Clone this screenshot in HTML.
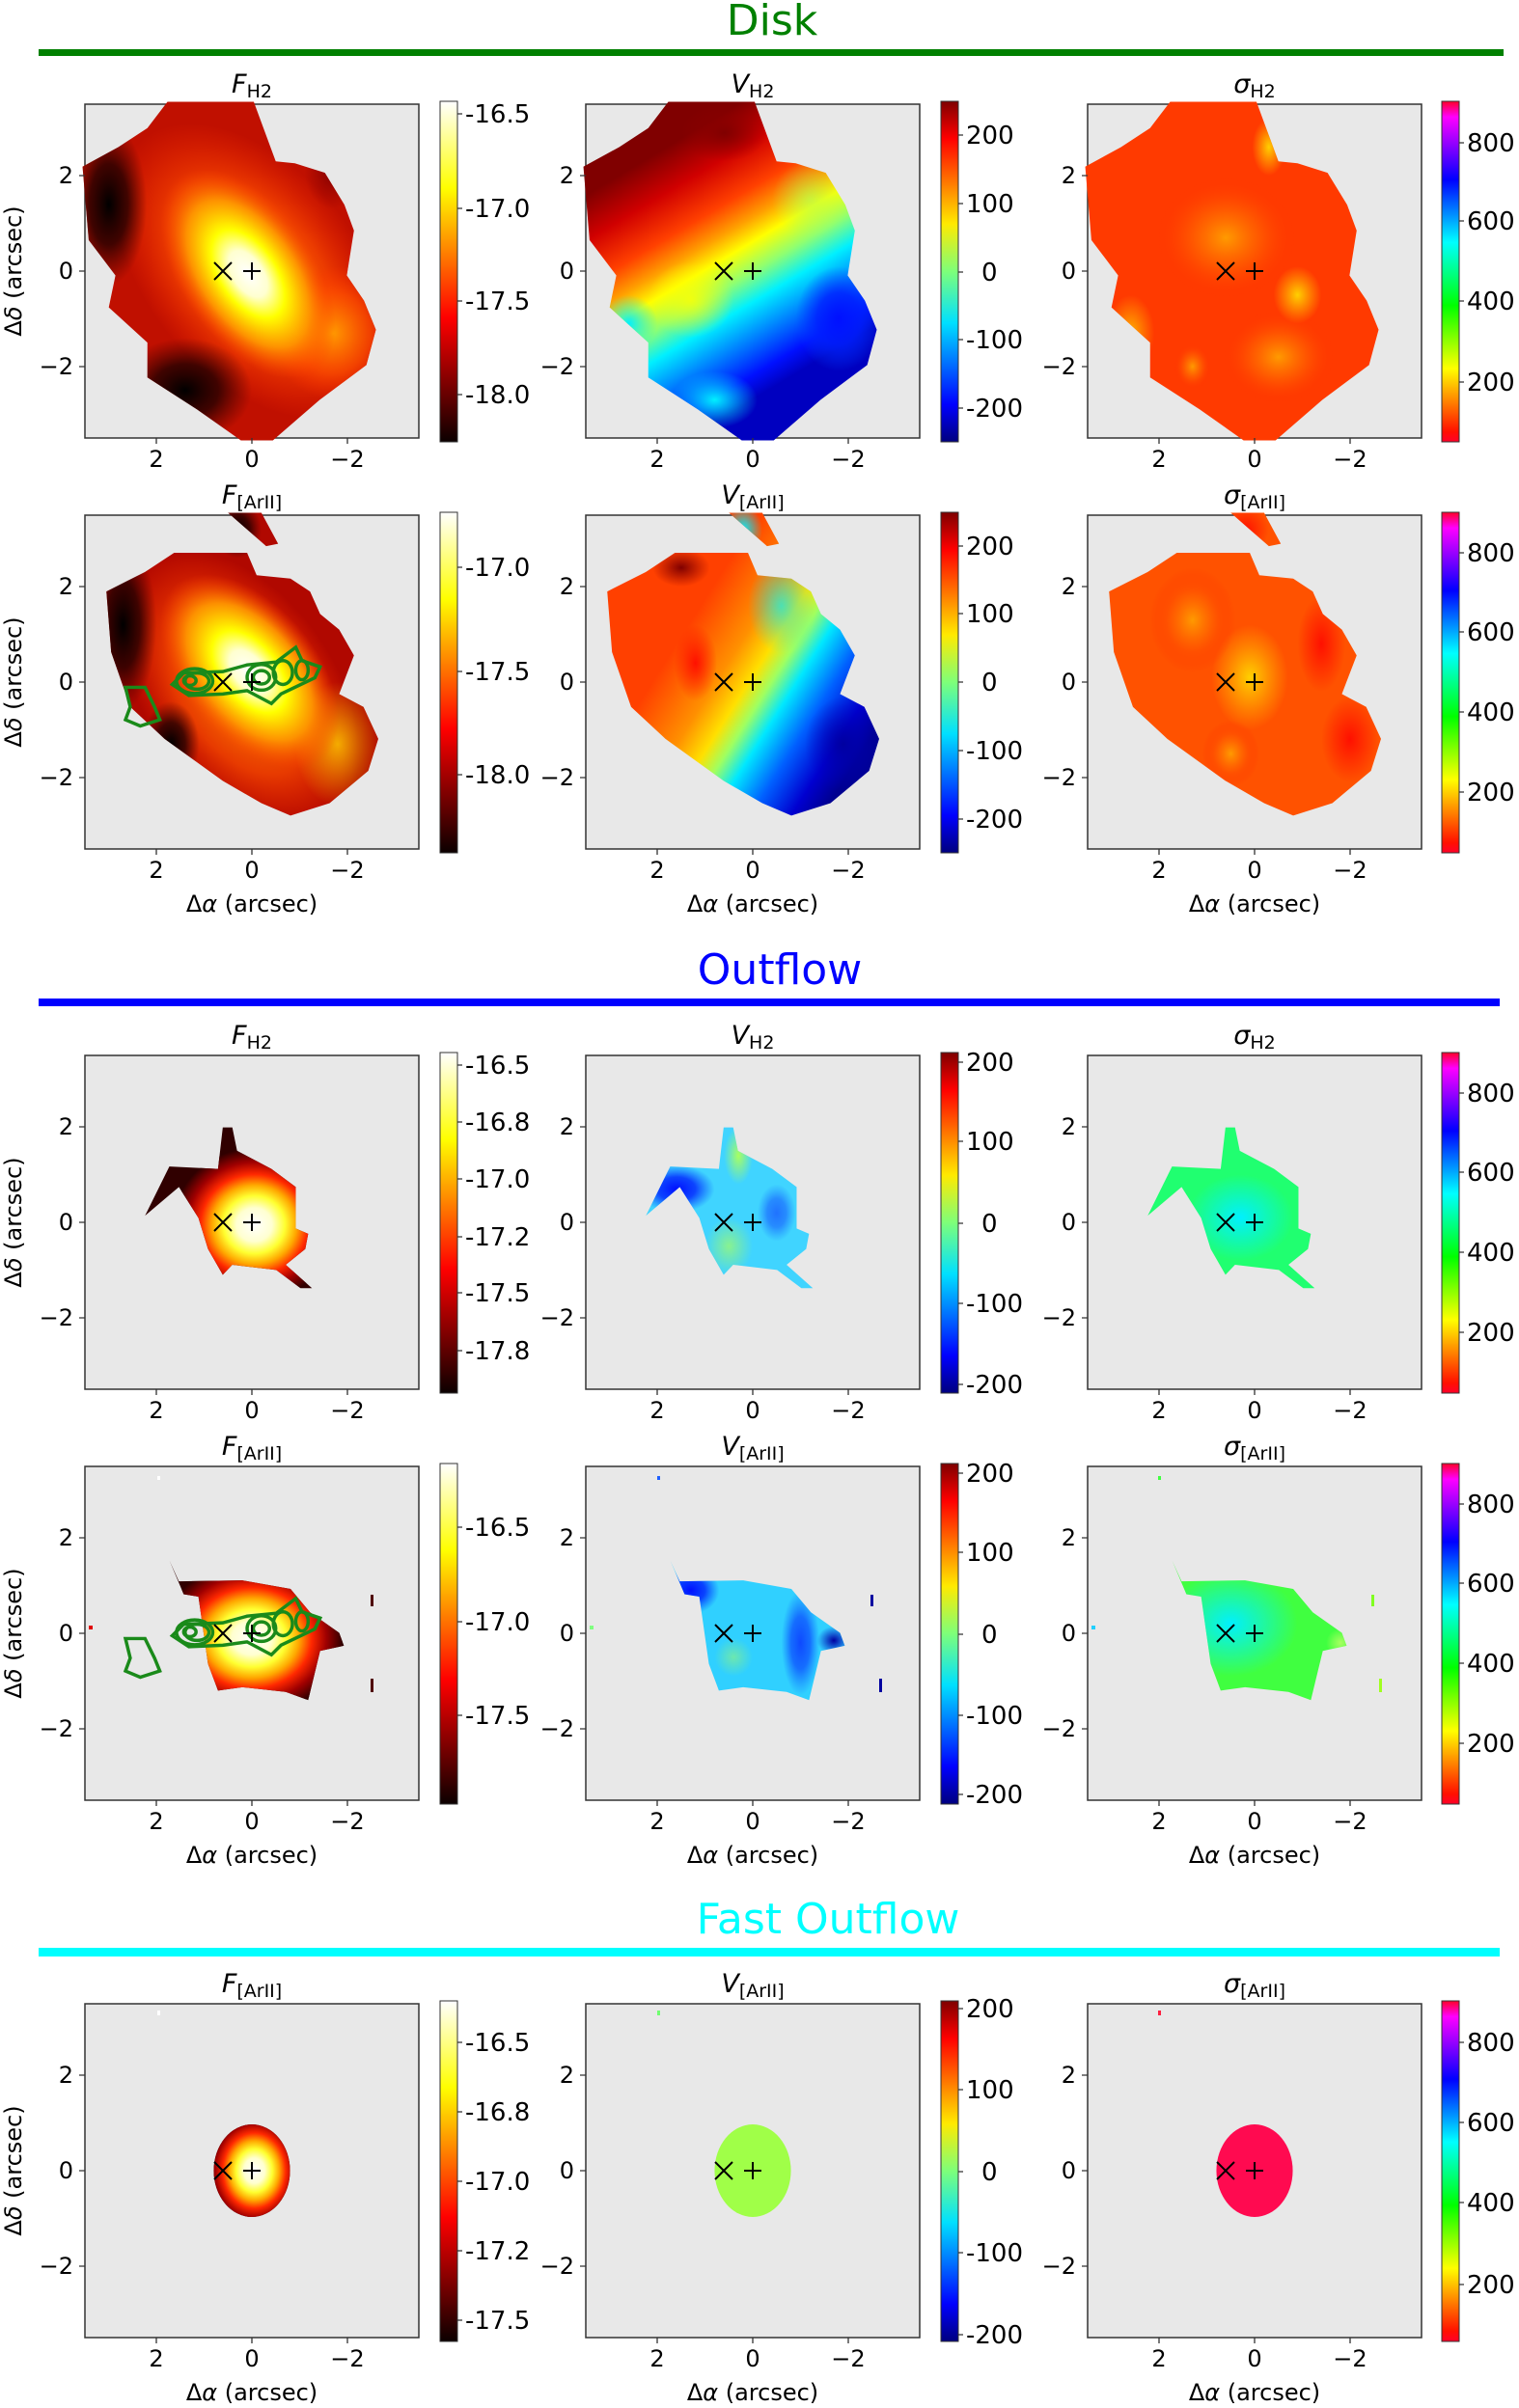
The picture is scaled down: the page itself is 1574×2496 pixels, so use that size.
<!DOCTYPE html>
<html><head><meta charset="utf-8"><style>html,body{margin:0;padding:0;background:#fff}svg{display:block}</style></head>
<body>
<svg xmlns="http://www.w3.org/2000/svg" xmlns:xlink="http://www.w3.org/1999/xlink" width="1574" height="2496" viewBox="0 0 1574 2496" font-family="DejaVu Sans, Liberation Sans, sans-serif">
<defs>
<linearGradient id="cbHot" x1="0" y1="1" x2="0" y2="0"><stop offset="0" stop-color="#0b0000"/><stop offset="0.365" stop-color="#ff0000"/><stop offset="0.746" stop-color="#ffff00"/><stop offset="1" stop-color="#ffffff"/></linearGradient>
<linearGradient id="cbJet" x1="0" y1="1" x2="0" y2="0"><stop offset="0" stop-color="#00007f"/><stop offset="0.11" stop-color="#0000ff"/><stop offset="0.35" stop-color="#00e0ff"/><stop offset="0.5" stop-color="#7dff7a"/><stop offset="0.64" stop-color="#ffea00"/><stop offset="0.89" stop-color="#ff0000"/><stop offset="1" stop-color="#7f0000"/></linearGradient>
<linearGradient id="cbRain" x1="0" y1="1" x2="0" y2="0"><stop offset="0" stop-color="#ff0029"/><stop offset="0.03" stop-color="#ff1000"/><stop offset="0.215" stop-color="#ffff00"/><stop offset="0.4" stop-color="#00ff00"/><stop offset="0.586" stop-color="#00ffff"/><stop offset="0.77" stop-color="#0000ff"/><stop offset="0.954" stop-color="#ff00ff"/><stop offset="1" stop-color="#ff0029"/></linearGradient>

<radialGradient id="fw"><stop offset="0" stop-color="#ffffff"/><stop offset="0.22" stop-color="#ffffd0"/><stop offset="0.42" stop-color="#ffff00"/><stop offset="0.7" stop-color="#ff9a00" stop-opacity="0.9"/><stop offset="1" stop-color="#ff4000" stop-opacity="0"/></radialGradient>
<radialGradient id="hotRad"><stop offset="0" stop-color="#ffffff"/><stop offset="0.22" stop-color="#ffffd0"/><stop offset="0.38" stop-color="#ffff30"/><stop offset="0.52" stop-color="#ffa800"/><stop offset="0.66" stop-color="#ff2800"/><stop offset="0.82" stop-color="#a00000"/><stop offset="1" stop-color="#300000"/></radialGradient>
<radialGradient id="fo"><stop offset="0" stop-color="#ff9a00"/><stop offset="0.6" stop-color="#ff5000" stop-opacity="0.7"/><stop offset="1" stop-color="#ff3000" stop-opacity="0"/></radialGradient>
<radialGradient id="fk"><stop offset="0" stop-color="#000000"/><stop offset="0.5" stop-color="#200000" stop-opacity="0.8"/><stop offset="1" stop-color="#400000" stop-opacity="0"/></radialGradient>
<radialGradient id="fr"><stop offset="0" stop-color="#ff1000"/><stop offset="1" stop-color="#ff1000" stop-opacity="0"/></radialGradient>
<radialGradient id="fy"><stop offset="0" stop-color="#ffd000"/><stop offset="1" stop-color="#ffc000" stop-opacity="0"/></radialGradient>
<radialGradient id="fyy"><stop offset="0" stop-color="#ffff00"/><stop offset="1" stop-color="#ffff00" stop-opacity="0"/></radialGradient>
<radialGradient id="fb"><stop offset="0" stop-color="#0010ff"/><stop offset="0.5" stop-color="#0020ff" stop-opacity="0.8"/><stop offset="1" stop-color="#0040ff" stop-opacity="0"/></radialGradient>
<radialGradient id="fdb"><stop offset="0" stop-color="#0000a0"/><stop offset="1" stop-color="#0000c0" stop-opacity="0"/></radialGradient>
<radialGradient id="fc"><stop offset="0" stop-color="#00f0ff"/><stop offset="1" stop-color="#00f0ff" stop-opacity="0"/></radialGradient>
<radialGradient id="fg"><stop offset="0" stop-color="#40ff40"/><stop offset="1" stop-color="#40ff40" stop-opacity="0"/></radialGradient>
<radialGradient id="fgy"><stop offset="0" stop-color="#a8ff60"/><stop offset="1" stop-color="#a8ff60" stop-opacity="0"/></radialGradient>
<radialGradient id="fdr"><stop offset="0" stop-color="#800000"/><stop offset="1" stop-color="#900000" stop-opacity="0"/></radialGradient>

<linearGradient id="gV1" gradientUnits="userSpaceOnUse" x1="0.8" y1="3.2" x2="-2.0" y2="-1.5"><stop offset="0" stop-color="#800000"/><stop offset="0.15" stop-color="#d00000"/><stop offset="0.3" stop-color="#ff4000"/><stop offset="0.4" stop-color="#ffa000"/><stop offset="0.48" stop-color="#ffff00"/><stop offset="0.58" stop-color="#90ff70"/><stop offset="0.68" stop-color="#00f0ff"/><stop offset="0.8" stop-color="#0080ff"/><stop offset="0.92" stop-color="#0010ff"/><stop offset="1" stop-color="#0000c0"/></linearGradient>
<linearGradient id="gV2" gradientUnits="userSpaceOnUse" x1="1.6" y1="0.8" x2="-2.2" y2="-1.6"><stop offset="0" stop-color="#ff4000"/><stop offset="0.25" stop-color="#ff9000"/><stop offset="0.38" stop-color="#ffe000"/><stop offset="0.47" stop-color="#a0ff60"/><stop offset="0.57" stop-color="#00e8ff"/><stop offset="0.72" stop-color="#0060ff"/><stop offset="0.88" stop-color="#0000d0"/><stop offset="1" stop-color="#000090"/></linearGradient>

<polygon id="pD1" points="1.77,3.55 -0.04,3.55 -0.5,2.3 -0.9,2.26 -1.53,2.06 -1.94,1.39 -2.14,0.85 -1.99,-0.09 -2.35,-0.62 -2.6,-1.23 -2.4,-1.97 -1.42,-2.7 -0.44,-3.55 0.23,-3.55 1.15,-2.9 2.19,-2.23 2.19,-1.5 3.0,-0.76 2.86,-0.09 3.42,0.65 3.55,2.19 2.8,2.6 2.19,3.0"/>
<polygon id="pD2" points="1.63,2.71 0.1,2.71 -0.1,2.24 -0.81,2.17 -1.22,1.9 -1.43,1.43 -1.83,1.1 -2.14,0.56 -1.83,-0.25 -2.34,-0.52 -2.65,-1.19 -2.44,-1.86 -1.63,-2.54 -0.81,-2.8 -0.2,-2.54 0.61,-2.07 1.83,-1.19 2.55,-0.52 2.95,0.63 3.05,1.9 2.24,2.31"/>
<polygon id="pD2t" points="0.5,3.55 -0.2,3.55 -0.55,2.9 -0.3,2.85"/>
<polygon id="pO1" points="0.61,1.99 0.41,1.99 0.31,1.5 -0.41,1.12 -0.92,0.74 -0.92,-0.13 -1.18,-0.24 -1.12,-0.56 -0.71,-0.89 -1.26,-1.38 -1.02,-1.38 -0.51,-1.0 0.41,-0.89 0.61,-1.1 0.92,-0.56 1.12,0.09 1.53,0.74 2.24,0.14 1.73,1.17 0.71,1.12"/>
<polygon id="pO2" points="1.73,1.53 1.53,1.09 0.2,1.11 -0.81,0.93 -1.22,0.44 -1.83,0.01 -1.93,-0.26 -1.43,-0.37 -1.18,-1.4 -0.71,-1.23 0.2,-1.13 0.71,-1.2 0.92,-0.64 1.12,0.77 1.43,0.82"/>
<clipPath id="cD1"><use xlink:href="#pD1"/></clipPath>
<clipPath id="cD2"><use xlink:href="#pD2"/><use xlink:href="#pD2t"/></clipPath>
<clipPath id="cO1"><use xlink:href="#pO1"/></clipPath>
<clipPath id="cO2"><use xlink:href="#pO2"/></clipPath>
<clipPath id="cF"><ellipse cx="0" cy="0" rx="0.8" ry="0.97"/></clipPath>

<g id="cont" fill="none" stroke="#1a8a1a" stroke-width="0.07">
<path d="M1.67,-0.05 L1.43,0.19 L0.61,0.22 L0.1,0.36 L-0.51,0.42 L-0.92,0.73 L-1.05,0.45 L-1.43,0.32 L-1.32,0.09 L-0.61,-0.25 L-0.41,-0.45 L0.1,-0.18 L0.61,-0.25 L1.32,-0.28 Z"/>
<ellipse cx="1.2" cy="0.02" rx="0.38" ry="0.26"/><ellipse cx="1.15" cy="0.02" rx="0.25" ry="0.17"/><ellipse cx="1.3" cy="0.03" rx="0.13" ry="0.1"/>
<ellipse cx="-0.2" cy="0.1" rx="0.3" ry="0.27"/><ellipse cx="-0.2" cy="0.1" rx="0.17" ry="0.14"/>
<ellipse cx="-0.65" cy="0.2" rx="0.2" ry="0.25"/><ellipse cx="-1.05" cy="0.25" rx="0.13" ry="0.2"/>
<path d="M2.65,-0.11 L2.24,-0.11 L2.04,-0.52 L1.93,-0.79 L2.34,-0.92 L2.65,-0.79 L2.55,-0.52 Z"/>
</g>
</defs>
<rect width="1574" height="2496" fill="#fff"/>

<text x="800" y="36" font-size="44" fill="#008000" text-anchor="middle">Disk</text>
<rect x="40" y="51" width="1518" height="7" fill="#008000"/>
<text x="808" y="1020" font-size="44" fill="#0000ff" text-anchor="middle">Outflow</text>
<rect x="40" y="1035" width="1514" height="8" fill="#0000ff"/>
<text x="858" y="2004" font-size="44" fill="#00ffff" text-anchor="middle">Fast Outflow</text>
<rect x="40" y="2019" width="1514" height="9" fill="#00ffff"/>

<g fill="#e8e8e8" stroke="#333" stroke-width="1.5">
<rect x="88" y="108" width="346" height="346"/><rect x="607" y="108" width="346" height="346"/><rect x="1127" y="108" width="346" height="346"/>
<rect x="88" y="534" width="346" height="346"/><rect x="607" y="534" width="346" height="346"/><rect x="1127" y="534" width="346" height="346"/>
<rect x="88" y="1094" width="346" height="346"/><rect x="607" y="1094" width="346" height="346"/><rect x="1127" y="1094" width="346" height="346"/>
<rect x="88" y="1520" width="346" height="346"/><rect x="607" y="1520" width="346" height="346"/><rect x="1127" y="1520" width="346" height="346"/>
<rect x="88" y="2077" width="346" height="346"/><rect x="607" y="2077" width="346" height="346"/><rect x="1127" y="2077" width="346" height="346"/>
</g>

<!-- ROW 1 -->
<g transform="translate(261,281) scale(-49.43)">
 <g clip-path="url(#cD1)">
  <rect x="-4" y="-4" width="8" height="8" fill="#c01000"/>
  <ellipse cx="0" cy="0" rx="3.6" ry="2.2" transform="rotate(50)" fill="url(#fo)"/>
  <ellipse cx="-1.7" cy="-1.3" rx="1.3" ry="1.4" fill="url(#fo)"/>
  <ellipse cx="1.4" cy="-2.5" rx="1.4" ry="1.1" fill="url(#fk)"/>
  <ellipse cx="3.0" cy="1.4" rx="0.8" ry="1.7" fill="url(#fk)"/>
  <ellipse cx="-1.7" cy="2.1" rx="0.6" ry="0.8" fill="url(#fdr)"/>
  <ellipse cx="0" cy="-0.1" rx="2.5" ry="1.4" transform="rotate(55)" fill="url(#fw)"/>
 </g>
</g>
<g transform="translate(780,281) scale(-49.43)">
 <g clip-path="url(#cD1)">
  <rect x="-4" y="-4" width="8" height="8" fill="url(#gV1)"/>
  <ellipse cx="0.6" cy="2.9" rx="0.9" ry="0.6" fill="url(#fdr)"/>
  <ellipse cx="1.3" cy="-0.6" rx="0.9" ry="0.8" fill="url(#fyy)" opacity="0.8"/>
  <ellipse cx="2.6" cy="-1.1" rx="0.6" ry="0.6" fill="url(#fc)"/>
  <ellipse cx="0.8" cy="-2.7" rx="0.9" ry="0.6" fill="url(#fc)"/>
  <ellipse cx="-1.8" cy="-1.0" rx="0.9" ry="1.1" fill="url(#fb)"/>
  <ellipse cx="-1.2" cy="1.5" rx="0.8" ry="0.8" fill="url(#fgy)" opacity="0.6"/>
 </g>
</g>
<g transform="translate(1300,281) scale(-49.43)">
 <g clip-path="url(#cD1)">
  <rect x="-4" y="-4" width="8" height="8" fill="#ff3a00"/>
  <ellipse cx="0.6" cy="0.7" rx="1.5" ry="1.3" fill="url(#fo)"/>
  <ellipse cx="-0.5" cy="-1.8" rx="1.2" ry="1.0" fill="url(#fo)"/>
  <ellipse cx="-0.9" cy="-0.5" rx="0.5" ry="0.6" fill="url(#fy)"/>
  <ellipse cx="-0.3" cy="2.6" rx="0.35" ry="0.6" fill="url(#fy)"/>
  <ellipse cx="2.6" cy="-1.3" rx="0.5" ry="0.8" fill="url(#fy)" opacity="0.8"/>
  <ellipse cx="1.3" cy="-2.0" rx="0.4" ry="0.5" fill="url(#fo)"/>
 </g>
</g>

<!-- ROW 2 -->
<g transform="translate(261,707) scale(-49.43)">
 <g clip-path="url(#cD2)">
  <rect x="-4" y="-4" width="8" height="8" fill="#b00800"/>
  <ellipse cx="0" cy="-0.3" rx="3.3" ry="2.0" transform="rotate(55)" fill="url(#fo)"/>
  <ellipse cx="-1.8" cy="-1.3" rx="0.9" ry="1.3" fill="url(#fy)" opacity="0.8"/>
  <ellipse cx="2.7" cy="1.2" rx="0.7" ry="1.8" fill="url(#fk)"/>
  <ellipse cx="1.7" cy="-1.3" rx="0.6" ry="0.9" fill="url(#fk)"/>
  <ellipse cx="0.3" cy="3.2" rx="0.5" ry="0.6" fill="url(#fk)"/>
  <ellipse cx="0.2" cy="0.1" rx="2.4" ry="1.4" transform="rotate(50)" fill="url(#fw)"/>
 </g>
 <use xlink:href="#cont"/>
</g>
<g transform="translate(780,707) scale(-49.43)">
 <g clip-path="url(#cD2)">
  <rect x="-4" y="-4" width="8" height="8" fill="url(#gV2)"/>
  <ellipse cx="1.2" cy="0.4" rx="0.45" ry="0.8" fill="url(#fr)"/>
  <ellipse cx="1.5" cy="2.4" rx="0.6" ry="0.4" fill="url(#fdr)"/>
  <ellipse cx="-0.6" cy="1.6" rx="0.7" ry="1.0" fill="url(#fc)" opacity="0.7"/>
  <ellipse cx="0.2" cy="3.2" rx="0.4" ry="0.5" fill="url(#fc)"/>
  <ellipse cx="-1.9" cy="-1.3" rx="0.8" ry="1.0" fill="url(#fdb)"/>
 </g>
</g>
<g transform="translate(1300,707) scale(-49.43)">
 <g clip-path="url(#cD2)">
  <rect x="-4" y="-4" width="8" height="8" fill="#ff5200"/>
  <ellipse cx="0.1" cy="0.1" rx="0.8" ry="1.1" fill="url(#fy)"/>
  <ellipse cx="1.3" cy="1.3" rx="0.9" ry="1.1" fill="url(#fo)"/>
  <ellipse cx="-1.4" cy="0.8" rx="0.5" ry="1.0" fill="url(#fr)"/>
  <ellipse cx="-2.0" cy="-1.2" rx="0.6" ry="0.9" fill="url(#fr)"/>
  <ellipse cx="0.5" cy="-1.5" rx="0.6" ry="0.7" fill="url(#fo)"/>
  <ellipse cx="0.2" cy="3.2" rx="0.5" ry="0.5" fill="url(#fr)"/>
 </g>
</g>

<!-- ROW 3 -->
<g transform="translate(261,1267) scale(-49.43)">
 <g clip-path="url(#cO1)">
  <rect x="-4" y="-4" width="8" height="8" fill="#300000"/>
  <ellipse cx="-0.05" cy="-0.05" rx="1.7" ry="1.6" fill="url(#hotRad)"/>
 </g>
</g>
<g transform="translate(780,1267) scale(-49.43)">
 <g clip-path="url(#cO1)">
  <rect x="-4" y="-4" width="8" height="8" fill="#40d4ff"/>
  <ellipse cx="1.6" cy="0.7" rx="0.8" ry="0.5" fill="url(#fb)"/>
  <ellipse cx="0.5" cy="-0.5" rx="0.5" ry="0.6" fill="url(#fgy)" opacity="0.7"/>
  <ellipse cx="0.3" cy="1.4" rx="0.3" ry="0.6" fill="url(#fgy)"/>
  <ellipse cx="-0.5" cy="0.2" rx="0.4" ry="0.6" fill="url(#fb)" opacity="0.5"/>
 </g>
</g>
<g transform="translate(1300,1267) scale(-49.43)">
 <g clip-path="url(#cO1)">
  <rect x="-4" y="-4" width="8" height="8" fill="#20ff70"/>
  <ellipse cx="0.3" cy="0.1" rx="1.1" ry="0.9" fill="url(#fc)"/>
 </g>
</g>

<!-- ROW 4 -->
<g transform="translate(261,1693) scale(-49.43)">
 <g clip-path="url(#cO2)">
  <rect x="-4" y="-4" width="8" height="8" fill="#300000"/>
  <ellipse cx="0" cy="-0.1" rx="1.9" ry="1.6" fill="url(#hotRad)"/>
 </g>
 <use xlink:href="#cont"/>
</g>
<g transform="translate(780,1693) scale(-49.43)">
 <g clip-path="url(#cO2)">
  <rect x="-4" y="-4" width="8" height="8" fill="#30d0ff"/>
  <ellipse cx="1.3" cy="0.9" rx="0.6" ry="0.5" fill="url(#fb)"/>
  <ellipse cx="-1.0" cy="-0.2" rx="0.4" ry="1.1" fill="url(#fb)" opacity="0.7"/>
  <ellipse cx="-1.7" cy="-0.15" rx="0.35" ry="0.3" fill="url(#fdb)"/>
  <ellipse cx="0.4" cy="-0.5" rx="0.4" ry="0.4" fill="url(#fgy)" opacity="0.5"/>
 </g>
</g>
<g transform="translate(1300,1693) scale(-49.43)">
 <g clip-path="url(#cO2)">
  <rect x="-4" y="-4" width="8" height="8" fill="#40ff40"/>
  <ellipse cx="0.5" cy="0.2" rx="1.4" ry="1.1" fill="url(#fc)"/>
  <ellipse cx="-1.8" cy="-0.2" rx="0.3" ry="0.3" fill="url(#fgy)"/>
 </g>
</g>

<!-- ROW 5 -->
<g transform="translate(261,2250) scale(-49.43)">
 <g clip-path="url(#cF)">
  <rect x="-4" y="-4" width="8" height="8" fill="#300000"/>
  <ellipse cx="-0.05" cy="0" rx="1.0" ry="1.2" fill="url(#hotRad)"/>
 </g>
</g>
<g transform="translate(780,2250) scale(-49.43)">
 <ellipse cx="0" cy="0" rx="0.8" ry="0.97" fill="#a0ff48"/>
</g>
<g transform="translate(1300,2250) scale(-49.43)">
 <ellipse cx="0" cy="0" rx="0.8" ry="0.97" fill="#ff0a50"/>
</g>
<g>
<rect x="163" y="2084" width="3" height="5" fill="#fff"/><rect x="681" y="2084" width="3" height="5" fill="#70ff70"/><rect x="1200" y="2084" width="3" height="5" fill="#ff2040"/>
<rect x="163" y="1530" width="3" height="4" fill="#fff"/><rect x="681" y="1530" width="3" height="4" fill="#2060ff"/><rect x="1200" y="1530" width="3" height="4" fill="#40ff40"/>
<rect x="92" y="1685" width="4" height="4" fill="#e00000"/><rect x="1131" y="1685" width="4" height="4" fill="#20d0ff"/><rect x="611" y="1685" width="4" height="4" fill="#80ff80"/>
<rect x="384" y="1653" width="3" height="12" fill="#500000"/><rect x="384" y="1740" width="3" height="14" fill="#500000"/>
<rect x="902" y="1653" width="3" height="12" fill="#0000a0"/><rect x="911" y="1740" width="3" height="14" fill="#0000a0"/>
<rect x="1421" y="1653" width="3" height="12" fill="#80ff20"/><rect x="1429" y="1740" width="3" height="14" fill="#a0ff20"/>
</g>

<g stroke="#000" stroke-width="2" fill="none">
<path id="mk" d="M222,272 l18,18 m0,-18 l-18,18 M261,272 v18 m-9,-9 h18"/>
<use xlink:href="#mk" x="519"/><use xlink:href="#mk" x="1039"/>
<use xlink:href="#mk" y="426"/><use xlink:href="#mk" x="519" y="426"/><use xlink:href="#mk" x="1039" y="426"/>
<use xlink:href="#mk" y="986"/><use xlink:href="#mk" x="519" y="986"/><use xlink:href="#mk" x="1039" y="986"/>
<use xlink:href="#mk" y="1412"/><use xlink:href="#mk" x="519" y="1412"/><use xlink:href="#mk" x="1039" y="1412"/>
<use xlink:href="#mk" y="1969"/><use xlink:href="#mk" x="519" y="1969"/><use xlink:href="#mk" x="1039" y="1969"/>
</g>

<defs>
<g id="ax">
 <g stroke="#333" stroke-width="1.3">
  <path d="M162,346 v6 M261,346 v6 M360,346 v6 M88,74 h-6 M88,173 h-6 M88,272 h-6"/>
 </g>
 <g font-size="24" fill="#000">
  <text x="162" y="376" text-anchor="middle">2</text>
  <text x="261" y="376" text-anchor="middle">0</text>
  <text x="360" y="376" text-anchor="middle">−2</text>
  <text x="76" y="82" text-anchor="end">2</text>
  <text x="76" y="181" text-anchor="end">0</text>
  <text x="76" y="280" text-anchor="end">−2</text>
 </g>
</g>
</defs>
<use xlink:href="#ax" x="0" y="108"/><use xlink:href="#ax" x="519" y="108"/><use xlink:href="#ax" x="1039" y="108"/>
<use xlink:href="#ax" x="0" y="534"/><use xlink:href="#ax" x="519" y="534"/><use xlink:href="#ax" x="1039" y="534"/>
<use xlink:href="#ax" x="0" y="1094"/><use xlink:href="#ax" x="519" y="1094"/><use xlink:href="#ax" x="1039" y="1094"/>
<use xlink:href="#ax" x="0" y="1520"/><use xlink:href="#ax" x="519" y="1520"/><use xlink:href="#ax" x="1039" y="1520"/>
<use xlink:href="#ax" x="0" y="2077"/><use xlink:href="#ax" x="519" y="2077"/><use xlink:href="#ax" x="1039" y="2077"/>

<g font-size="24" fill="#000" text-anchor="middle">
<text x="261" y="945">Δ<tspan font-style="italic">α</tspan> (arcsec)</text>
<text x="780" y="945">Δ<tspan font-style="italic">α</tspan> (arcsec)</text>
<text x="1300" y="945">Δ<tspan font-style="italic">α</tspan> (arcsec)</text>
<text x="261" y="1931">Δ<tspan font-style="italic">α</tspan> (arcsec)</text>
<text x="780" y="1931">Δ<tspan font-style="italic">α</tspan> (arcsec)</text>
<text x="1300" y="1931">Δ<tspan font-style="italic">α</tspan> (arcsec)</text>
<text x="261" y="2488">Δ<tspan font-style="italic">α</tspan> (arcsec)</text>
<text x="780" y="2488">Δ<tspan font-style="italic">α</tspan> (arcsec)</text>
<text x="1300" y="2488">Δ<tspan font-style="italic">α</tspan> (arcsec)</text>
<text transform="translate(22,281) rotate(-90)">Δ<tspan font-style="italic">δ</tspan> (arcsec)</text>
<text transform="translate(22,707) rotate(-90)">Δ<tspan font-style="italic">δ</tspan> (arcsec)</text>
<text transform="translate(22,1267) rotate(-90)">Δ<tspan font-style="italic">δ</tspan> (arcsec)</text>
<text transform="translate(22,1693) rotate(-90)">Δ<tspan font-style="italic">δ</tspan> (arcsec)</text>
<text transform="translate(22,2250) rotate(-90)">Δ<tspan font-style="italic">δ</tspan> (arcsec)</text>
</g>

<g font-size="27" fill="#000" text-anchor="middle">
<text x="261" y="96"><tspan font-style="italic">F</tspan><tspan font-size="19" dy="5">H2</tspan></text>
<text x="780" y="96"><tspan font-style="italic">V</tspan><tspan font-size="19" dy="5">H2</tspan></text>
<text x="1300" y="96"><tspan font-style="italic">σ</tspan><tspan font-size="19" dy="5">H2</tspan></text>
<text x="261" y="522"><tspan font-style="italic">F</tspan><tspan font-size="19" dy="5">[ArII]</tspan></text>
<text x="780" y="522"><tspan font-style="italic">V</tspan><tspan font-size="19" dy="5">[ArII]</tspan></text>
<text x="1300" y="522"><tspan font-style="italic">σ</tspan><tspan font-size="19" dy="5">[ArII]</tspan></text>
<text x="261" y="1082"><tspan font-style="italic">F</tspan><tspan font-size="19" dy="5">H2</tspan></text>
<text x="780" y="1082"><tspan font-style="italic">V</tspan><tspan font-size="19" dy="5">H2</tspan></text>
<text x="1300" y="1082"><tspan font-style="italic">σ</tspan><tspan font-size="19" dy="5">H2</tspan></text>
<text x="261" y="1508"><tspan font-style="italic">F</tspan><tspan font-size="19" dy="5">[ArII]</tspan></text>
<text x="780" y="1508"><tspan font-style="italic">V</tspan><tspan font-size="19" dy="5">[ArII]</tspan></text>
<text x="1300" y="1508"><tspan font-style="italic">σ</tspan><tspan font-size="19" dy="5">[ArII]</tspan></text>
<text x="261" y="2065"><tspan font-style="italic">F</tspan><tspan font-size="19" dy="5">[ArII]</tspan></text>
<text x="780" y="2065"><tspan font-style="italic">V</tspan><tspan font-size="19" dy="5">[ArII]</tspan></text>
<text x="1300" y="2065"><tspan font-style="italic">σ</tspan><tspan font-size="19" dy="5">[ArII]</tspan></text>
</g>

<g stroke="#333" stroke-width="1">
<rect x="456" y="105" width="18" height="353" fill="url(#cbHot)"/><rect x="975" y="105" width="18" height="353" fill="url(#cbJet)"/><rect x="1494" y="105" width="18" height="353" fill="url(#cbRain)"/>
<rect x="456" y="531" width="18" height="353" fill="url(#cbHot)"/><rect x="975" y="531" width="18" height="353" fill="url(#cbJet)"/><rect x="1494" y="531" width="18" height="353" fill="url(#cbRain)"/>
<rect x="456" y="1091" width="18" height="353" fill="url(#cbHot)"/><rect x="975" y="1091" width="18" height="353" fill="url(#cbJet)"/><rect x="1494" y="1091" width="18" height="353" fill="url(#cbRain)"/>
<rect x="456" y="1517" width="18" height="353" fill="url(#cbHot)"/><rect x="975" y="1517" width="18" height="353" fill="url(#cbJet)"/><rect x="1494" y="1517" width="18" height="353" fill="url(#cbRain)"/>
<rect x="456" y="2074" width="18" height="353" fill="url(#cbHot)"/><rect x="975" y="2074" width="18" height="353" fill="url(#cbJet)"/><rect x="1494" y="2074" width="18" height="353" fill="url(#cbRain)"/>
</g>
<g font-size="26" fill="#000">
<text x="482" y="127">-16.5</text><text x="482" y="225">-17.0</text><text x="482" y="321">-17.5</text><text x="482" y="418">-18.0</text>
<text x="1001" y="149">200</text><text x="1001" y="220">100</text><text x="1017" y="291">0</text><text x="1001" y="361">-100</text><text x="1001" y="432">-200</text>
<text x="1520" y="157">800</text><text x="1520" y="238">600</text><text x="1520" y="321">400</text><text x="1520" y="405">200</text>
<text x="482" y="597">-17.0</text><text x="482" y="705">-17.5</text><text x="482" y="812">-18.0</text>
<text x="1001" y="575">200</text><text x="1001" y="645">100</text><text x="1017" y="716">0</text><text x="1001" y="787">-100</text><text x="1001" y="858">-200</text>
<text x="1520" y="582">800</text><text x="1520" y="664">600</text><text x="1520" y="747">400</text><text x="1520" y="830">200</text>
<text x="482" y="1113">-16.5</text><text x="482" y="1172">-16.8</text><text x="482" y="1231">-17.0</text><text x="482" y="1291">-17.2</text><text x="482" y="1349">-17.5</text><text x="482" y="1409">-17.8</text>
<text x="1001" y="1110">200</text><text x="1001" y="1192">100</text><text x="1017" y="1277">0</text><text x="1001" y="1360">-100</text><text x="1001" y="1444">-200</text>
<text x="1520" y="1142">800</text><text x="1520" y="1224">600</text><text x="1520" y="1307">400</text><text x="1520" y="1390">200</text>
<text x="482" y="1592">-16.5</text><text x="482" y="1690">-17.0</text><text x="482" y="1787">-17.5</text>
<text x="1001" y="1536">200</text><text x="1001" y="1618">100</text><text x="1017" y="1703">0</text><text x="1001" y="1787">-100</text><text x="1001" y="1869">-200</text>
<text x="1520" y="1568">800</text><text x="1520" y="1650">600</text><text x="1520" y="1733">400</text><text x="1520" y="1816">200</text>
<text x="482" y="2126">-16.5</text><text x="482" y="2198">-16.8</text><text x="482" y="2270">-17.0</text><text x="482" y="2342">-17.2</text><text x="482" y="2414">-17.5</text>
<text x="1001" y="2091">200</text><text x="1001" y="2175">100</text><text x="1017" y="2260">0</text><text x="1001" y="2344">-100</text><text x="1001" y="2429">-200</text>
<text x="1520" y="2126">800</text><text x="1520" y="2209">600</text><text x="1520" y="2292">400</text><text x="1520" y="2377">200</text>
</g>
<g stroke="#333" stroke-width="1.2">
<path d="M474,118h5M474,216h5M474,312h5M474,409h5 M993,140h5M993,211h5M993,282h5M993,352h5M993,423h5 M1512,148h5M1512,229h5M1512,312h5M1512,396h5"/>
<path d="M474,588h5M474,696h5M474,803h5 M993,566h5M993,636h5M993,707h5M993,778h5M993,849h5 M1512,573h5M1512,655h5M1512,738h5M1512,821h5"/>
<path d="M474,1104h5M474,1163h5M474,1222h5M474,1282h5M474,1340h5M474,1400h5 M993,1101h5M993,1183h5M993,1268h5M993,1351h5M993,1435h5 M1512,1133h5M1512,1215h5M1512,1298h5M1512,1381h5"/>
<path d="M474,1583h5M474,1681h5M474,1778h5 M993,1527h5M993,1609h5M993,1694h5M993,1778h5M993,1860h5 M1512,1559h5M1512,1641h5M1512,1724h5M1512,1807h5"/>
<path d="M474,2117h5M474,2189h5M474,2261h5M474,2333h5M474,2405h5 M993,2082h5M993,2166h5M993,2251h5M993,2335h5M993,2420h5 M1512,2117h5M1512,2200h5M1512,2283h5M1512,2368h5"/>
</g>
</svg>
</body></html>
